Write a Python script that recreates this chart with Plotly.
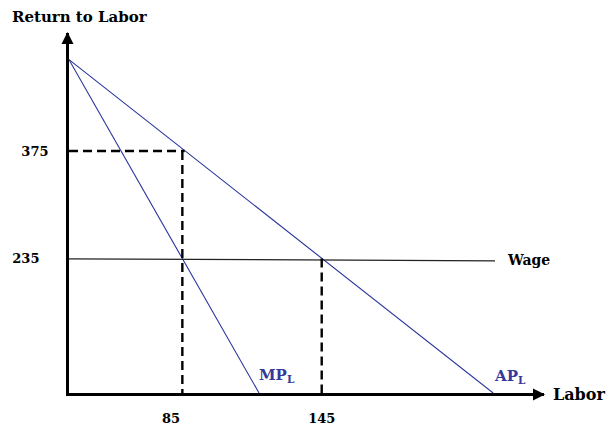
import plotly.graph_objects as go

# Schematic data
labor_ticks = [85, 145]
return_ticks = [235, 375]
labor_tick_text = ["85" + "\u00a0" * 5, "145"]
return_tick_text = ["235" + "\u00a0" * 2, "375"]
x_range = [36.2, 240.7]
y_range = [59.9, 528.7]
intercept = 494.0
mp_zero_labor = 118.0
ap_zero_labor = 218.8
wage_x = [36.2, 219.6]
wage_y = [234.6, 232.0]

BLUE = "#27339a"
TXTBLUE = "#35399c"
SERIF = "DejaVu Serif, Liberation Serif, serif"

# Layout geometry (pixels)
L, R, T, B = 69, 68, 33, 40
PW, PH = 612 - L - R, 438 - T - B


def px_x(p):
    return (p - L) / PW


def px_y(p):
    return 1 - (p - T) / PH


fig = go.Figure()

line_kw = dict(mode="lines", hoverinfo="skip", showlegend=False, cliponaxis=False)
# MP_L line
fig.add_trace(go.Scatter(x=[x_range[0], mp_zero_labor], y=[intercept, y_range[0]],
                         line=dict(color=BLUE, width=1.1), **line_kw))
# AP_L line
fig.add_trace(go.Scatter(x=[x_range[0], ap_zero_labor], y=[intercept, y_range[0]],
                         line=dict(color=BLUE, width=1.1), **line_kw))
# Wage line
fig.add_trace(go.Scatter(x=wage_x, y=wage_y, line=dict(color="#222222", width=1.3), **line_kw))
# Dashed guides
dash = dict(color="black", width=2.4, dash="9px,5px")
fig.add_trace(go.Scatter(x=[x_range[0], labor_ticks[0] + 1], y=[return_ticks[1], return_ticks[1]],
                         line=dash, **line_kw))
fig.add_trace(go.Scatter(x=[labor_ticks[0], labor_ticks[0]], y=[return_ticks[1], y_range[0]],
                         line=dash, **line_kw))
fig.add_trace(go.Scatter(x=[labor_ticks[1], labor_ticks[1]], y=[return_ticks[0], y_range[0]],
                         line=dash, **line_kw))

# Axis arrowheads
fig.add_annotation(x=px_x(545), y=px_y(399.5), ax=-12, ay=0, xref="paper", yref="paper",
                   showarrow=True, arrowhead=2, arrowsize=1,
                   arrowwidth=2.4, arrowcolor="black", text="")
fig.add_annotation(x=px_x(67.5), y=px_y(32), ax=0, ay=14, xref="paper", yref="paper",
                   showarrow=True, arrowhead=2, arrowsize=1,
                   arrowwidth=2.4, arrowcolor="black", text="")

# Labels
fig.add_annotation(x=px_x(10), y=px_y(17), xref="paper", yref="paper",
                   text="<b>Return to Labor</b>", showarrow=False, xanchor="left", yanchor="middle",
                   font=dict(family=SERIF, size=15, color="black"))
fig.add_annotation(x=px_x(551), y=px_y(400), xref="paper", yref="paper",
                   text="<b>Labor</b>", showarrow=False, xanchor="left", yanchor="middle",
                   font=dict(family=SERIF, size=16, color="black"))
fig.add_annotation(x=wage_x[1], y=wage_y[1], xref="x", yref="y", xshift=10, yshift=1,
                   text="<b>Wage</b>", showarrow=False, xanchor="left", yanchor="middle",
                   font=dict(family=SERIF, size=14, color="black"))
fig.add_annotation(x=mp_zero_labor, y=y_range[0] + 1, xref="x", yref="y",
                   xshift=-2, yshift=17,
                   text="<b>MP<sub>L</sub></b>", showarrow=False, xanchor="left", yanchor="middle",
                   font=dict(family=SERIF, size=15, color=TXTBLUE))
fig.add_annotation(x=ap_zero_labor, y=y_range[0] + 1, xref="x", yref="y", xshift=-1, yshift=16,
                   text="<b>AP<sub>L</sub></b>", showarrow=False, xanchor="left", yanchor="middle",
                   font=dict(family=SERIF, size=15, color=TXTBLUE))

axis_common = dict(showgrid=False, zeroline=False, showline=True, linecolor="black",
                   linewidth=2.8, ticks="", fixedrange=True,
                   tickfont=dict(family=SERIF, size=13, color="black", weight="bold"))

fig.update_layout(
    width=612, height=438,
    margin=dict(l=L, r=R, t=T, b=B),
    paper_bgcolor="white", plot_bgcolor="white",
    xaxis=dict(range=x_range, tickvals=labor_ticks,
               ticktext=labor_tick_text, ticklabelstandoff=11, **axis_common),
    yaxis=dict(range=y_range, tickvals=return_ticks,
               ticktext=return_tick_text, ticklabelstandoff=15, **axis_common),
)

fig.write_html("out.html", config={"displayModeBar": False},
               post_script="document.body.style.margin='0';document.body.style.overflow='hidden';")
